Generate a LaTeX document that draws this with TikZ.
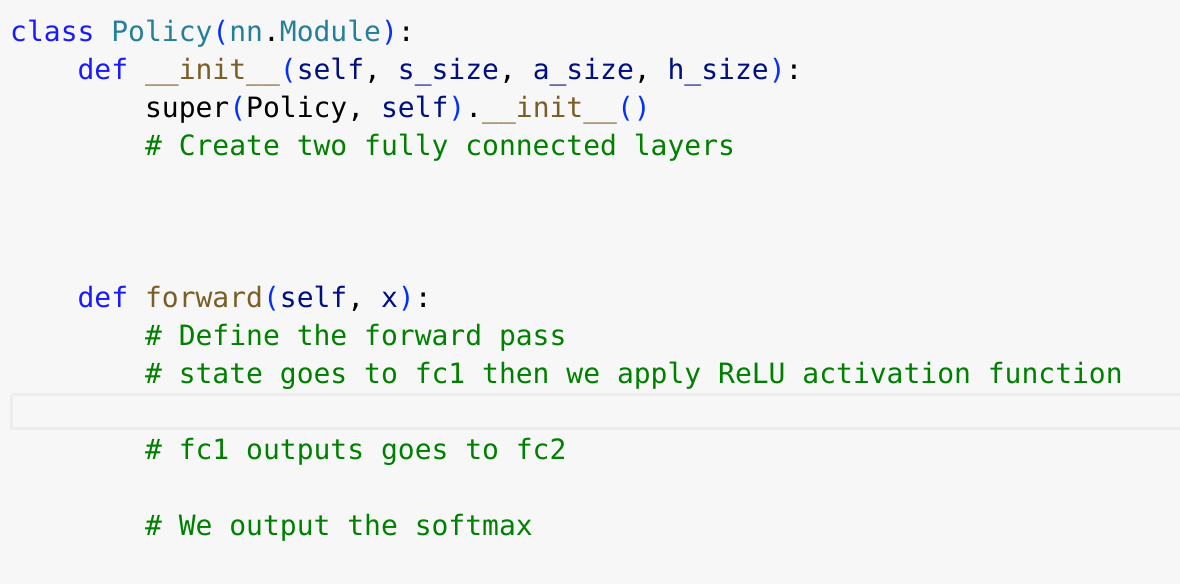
\documentclass[tikz,border=0pt]{standalone}
\usepackage{fontspec}
\setmonofont{DejaVu Sans Mono}
\definecolor{bg}{HTML}{F7F7F7}
\definecolor{kw}{HTML}{1A1AFF}
\definecolor{cls}{HTML}{267F99}
\definecolor{slf}{HTML}{001080}
\definecolor{fn}{HTML}{795E26}
\definecolor{cm}{HTML}{008000}
\definecolor{par}{HTML}{0431FA}
\newcommand{\K}[1]{\textcolor{kw}{#1}}
\newcommand{\C}[1]{\textcolor{cls}{#1}}
\newcommand{\Sf}[1]{\textcolor{slf}{#1}}
\newcommand{\F}[1]{\textcolor{fn}{#1}}
\newcommand{\G}[1]{\textcolor{cm}{#1}}
\newcommand{\Pa}[1]{\textcolor{par}{#1}}
\begin{document}
\begin{tikzpicture}[x=1pt,y=-1pt,
  code/.style={anchor=base west,inner sep=0pt,font=\fontsize{28}{28}\selectfont\ttfamily}]
\fill[bg] (0,0) rectangle (1180,584);
\useasboundingbox (0,0) rectangle (1180,584);
\draw[line width=3pt,color=black!7] (11.5,394.5) -- (1180,394.5) (11.5,394.5) -- (11.5,428.5) -- (1180,428.5);
\node[code] (l1) at (10,41) {\K{class} \C{Policy}\Pa{(}\C{nn}.\C{Module}\Pa{)}:};
\node[code] (l2) at (10,79) {\phantom{xxxx}\K{def} \F{\_\_init\_\_}\Pa{(}\Sf{self}, \Sf{s\_size}, \Sf{a\_size}, \Sf{h\_size}\Pa{)}:};
\node[code] (l3) at (10,117) {\phantom{xxxxxxxx}super\Pa{(}Policy, \Sf{self}\Pa{)}.\F{\_\_init\_\_}\Pa{()}};
\node[code] (l4) at (10,155) {\phantom{xxxxxxxx}\G{\# Create two fully connected layers}};
\node[code] (l5) at (10,307) {\phantom{xxxx}\K{def} \F{forward}\Pa{(}\Sf{self}, \Sf{x}\Pa{)}:};
\node[code] (l6) at (10,345) {\phantom{xxxxxxxx}\G{\# Define the forward pass}};
\node[code] (l7) at (10,383) {\phantom{xxxxxxxx}\G{\# state goes to fc1 then we apply ReLU activation function}};
\node[code] (l8) at (10,459) {\phantom{xxxxxxxx}\G{\# fc1 outputs goes to fc2}};
\node[code] (l9) at (10,535) {\phantom{xxxxxxxx}\G{\# We output the softmax}};
\end{tikzpicture}
\end{document}
